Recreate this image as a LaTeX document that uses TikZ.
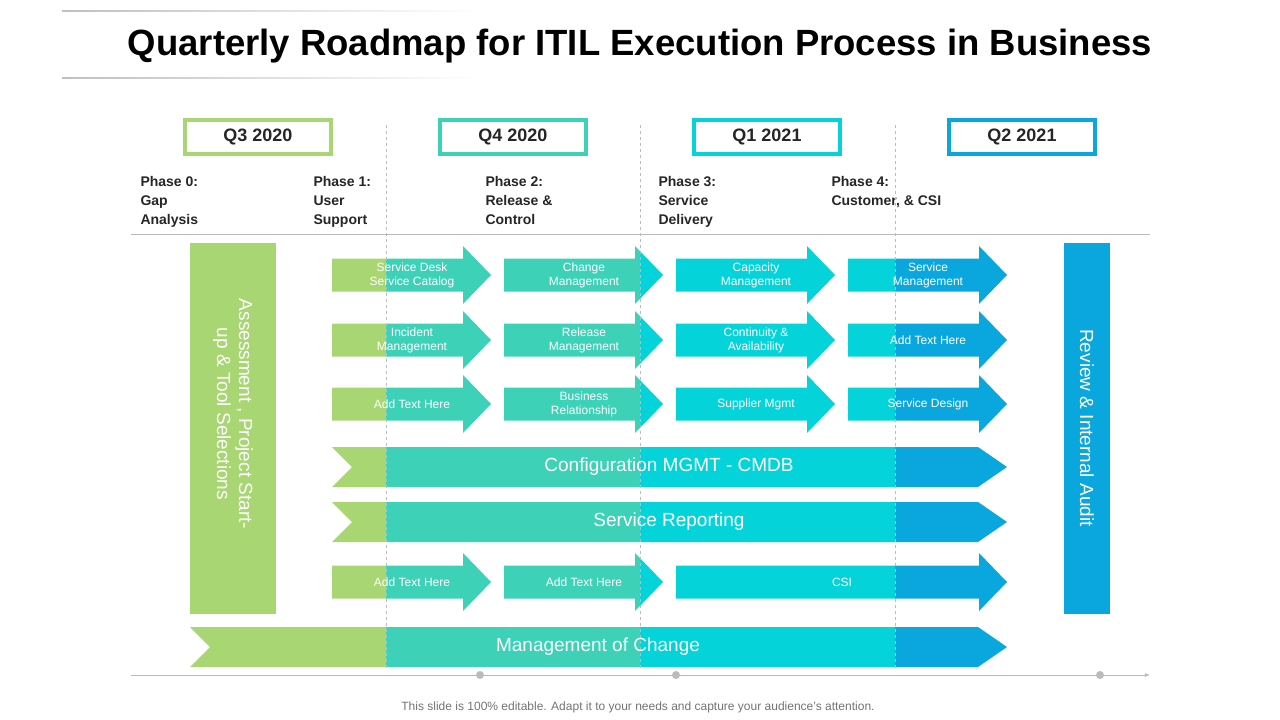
\documentclass[tikz,border=0pt]{standalone}
\usepackage{fontspec}
\setmainfont{Liberation Sans}
\usetikzlibrary{positioning}
\definecolor{cgreen}{HTML}{A8D672}
\definecolor{cteal}{HTML}{3DD1B8}
\definecolor{ccyan}{HTML}{05D3DA}
\definecolor{cblue}{HTML}{0AA6DE}
\definecolor{cgrid}{HTML}{BBBBBB}
% small arrow: x start, x tip, y centre
\newcommand{\smallarrow}[3]{(#1,#3-16.5) -- (#2-28,#3-16.5) -- (#2-28,#3-29) -- (#2,#3) -- (#2-28,#3+29) -- (#2-28,#3+16.5) -- (#1,#3+16.5) -- cycle}
% chevron bar: x start, x tip, y centre
\newcommand{\chevbar}[3]{(#1,#3-20) -- (#2-29,#3-20) -- (#2,#3) -- (#2-29,#3+20) -- (#1,#3+20) -- (#1+20,#3) -- cycle}
\newcommand{\bands}{%
  \fill[cgreen] (0,0) rectangle (386,720);
  \fill[cteal] (386,0) rectangle (640,720);
  \fill[ccyan] (640,0) rectangle (895,720);
  \fill[cblue] (895,0) rectangle (1280,720);}
\begin{document}
\begin{tikzpicture}[x=1pt,y=-1pt,
    qbox/.style={draw=#1, line width=3.5pt, minimum width=146pt, minimum height=34pt, font=\fontsize{18}{20}\selectfont\bfseries, text=black!85},
    phase/.style={anchor=north west, align=left, font=\fontsize{14}{19}\selectfont\bfseries, text=black!85},
    atext/.style={text=white, align=center, font=\fontsize{12}{14}\selectfont},
    btext/.style={text=white, font=\fontsize{19}{22}\selectfont},
    grid/.style={cgrid, dashed, line width=0.6pt}
]
\useasboundingbox (0,0) rectangle (1280,720);
% title
\node[font=\fontsize{36.5}{40}\selectfont\bfseries] (title) at (640,46) {Quarterly Roadmap for ITIL Execution Process in Business};
\shade[left color=black!25, right color=white] (62,10) rectangle (480,11.2);
\shade[left color=black!25, right color=white] (62,77.5) rectangle (480,78.7);
% quarters
\node[qbox=cgreen] (q3) at (258,137) {Q3 2020};
\node[qbox=cteal] (q4) at (513,137) {Q4 2020};
\node[qbox=ccyan] (q1) at (767,137) {Q1 2021};
\node[qbox=cblue] (q2) at (1022,137) {Q2 2021};
% phases
\node[phase] (p0) at (137,173) {Phase 0:\\Gap\\Analysis};
\node[phase] (p1) at (310,173) {Phase 1:\\User\\Support};
\node[phase] (p2) at (482,173) {Phase 2:\\Release \&\\Control};
\node[phase] (p3) at (655,173) {Phase 3:\\Service\\Delivery};
\node[phase] (p4) at (828,173) {Phase 4:\\Customer, \& CSI};
\draw[cgrid, line width=0.8pt] (131,234) -- (1150,234);
% side boxes
\fill[cgreen] (190,243) rectangle (276,614);
\node[btext, rotate=-90, align=center] (assess) at (233,414) {Assessment , Project Start-\\up \& Tool Selections};
\fill[cblue] (1064,243) rectangle (1110,614);
\node[btext, rotate=-90] (review) at (1087,428) {Review \& Internal Audit};
% arrows
\foreach \ys in {275,340,404} {
  \foreach \xs in {332,504,676,848} {
    \begin{scope}\clip \smallarrow{\xs}{\xs+159}{\ys}; \bands \end{scope}
  }
}
\begin{scope}\clip \chevbar{332}{1007}{467}; \bands \end{scope}
\begin{scope}\clip \chevbar{332}{1007}{522}; \bands \end{scope}
\begin{scope}\clip \chevbar{190}{1007}{647}; \bands \end{scope}
\begin{scope}\clip \smallarrow{332}{491}{582}; \bands \end{scope}
\begin{scope}\clip \smallarrow{504}{663}{582}; \bands \end{scope}
\begin{scope}\clip \smallarrow{676}{1007}{582}; \bands \end{scope}
% grid lines
\foreach \xg in {386,640,895} \draw[grid] (\xg,125) -- (\xg,670);
% arrow texts
\node[atext] (sd) at (412,275) {Service Desk\\Service Catalog};
\node[atext] (cm) at (584,275) {Change\\Management};
\node[atext] (cap) at (756,275) {Capacity\\Management};
\node[atext] (sm) at (928,275) {Service\\Management};
\node[atext] (im) at (412,340) {Incident\\Management};
\node[atext] (rm) at (584,340) {Release\\Management};
\node[atext] (ca) at (756,340) {Continuity \&\\Availability};
\node[atext] (at1) at (928,340) {Add Text Here};
\node[atext] (at2) at (412,404) {Add Text Here};
\node[atext] (br) at (584,404) {Business\\Relationship};
\node[atext] (sup) at (756,404) {Supplier Mgmt};
\node[atext] (sdes) at (928,404) {Service Design};
\node[btext] (cmdb) at (669,467) {Configuration MGMT - CMDB};
\node[btext] (rep) at (669,522) {Service Reporting};
\node[atext] (at3) at (412,582) {Add Text Here};
\node[atext] (at4) at (584,582) {Add Text Here};
\node[atext] (csi) at (842,582) {CSI};
\node[btext] (moc) at (598,647) {Management of Change};
% timeline
\coordinate (tl) at (131,675);
\coordinate (tr) at (1150,675);
\draw[cgrid, line width=0.8pt, -latex] (tl) -- (tr);
\foreach \xd in {480,676,1100} \fill[cgrid] (\xd,675) circle (4);
\node[text=black!55, font=\fontsize{12}{14}\selectfont] (foot) at (638,707) {This slide is 100\% editable. Adapt it to your needs and capture your audience's attention.};
\end{tikzpicture}
\end{document}
